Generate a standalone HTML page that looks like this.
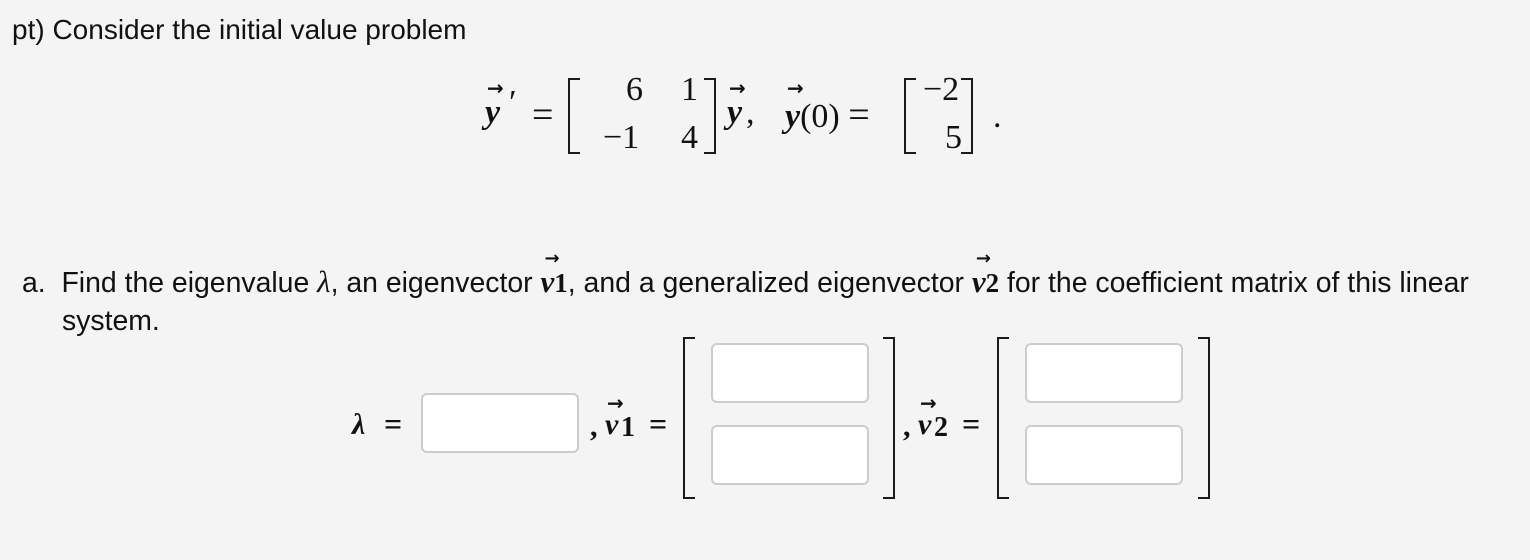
<!DOCTYPE html>
<html><head><meta charset="utf-8"><style>
body{margin:0;width:1530px;height:560px;background:#f4f4f4;position:relative;overflow:hidden;font-family:"Liberation Sans",sans-serif;color:#111}
.a{position:absolute;white-space:nowrap;line-height:1}
.s{font-family:"Liberation Sans",sans-serif;font-size:28px}
.m{font-family:"Liberation Serif",serif;font-size:34px}
.bl{position:absolute;border:2.5px solid #1a1a1a;border-right:none;width:10px}
.br{position:absolute;border:2.5px solid #1a1a1a;border-left:none;width:10px}
.box{position:absolute;background:#fff;border:2px solid #ccc;border-radius:6px;box-sizing:border-box}
.vec{position:absolute;font-size:20px;font-family:"DejaVu Sans",sans-serif;font-weight:bold;line-height:1}
.v{position:relative;display:inline-block}
.v .ar{position:absolute;left:4px;top:-16px;font-size:18px;font-family:"DejaVu Sans",sans-serif;font-weight:bold;font-style:normal}
</style></head><body>
<div class="a s" style="left:12px;top:16px">pt) Consider the initial value problem</div>

<!-- equation -->
<div class="a m" style="left:485px;top:96px;font-style:italic;font-weight:bold">y</div>
<div class="vec" style="left:487px;top:78px">→</div>
<div class="a m" style="left:507px;top:86px;font-style:italic">′</div>
<div class="a m" style="left:532px;top:96px;font-size:38px">=</div>
<div class="bl" style="left:568px;top:78px;height:72px"></div>
<div class="a m" style="left:626px;top:73px">6</div>
<div class="a m" style="left:681px;top:73px">1</div>
<div class="a m" style="left:603px;top:121px">−1</div>
<div class="a m" style="left:681px;top:121px">4</div>
<div class="br" style="left:704px;top:78px;height:72px"></div>
<div class="a m" style="left:727px;top:96px;font-style:italic;font-weight:bold">y</div>
<div class="vec" style="left:729px;top:78px">→</div>
<div class="a m" style="left:746px;top:96px">,</div>
<div class="a m" style="left:785px;top:96px"><i><b>y</b></i>(0) <span style="font-size:38px">=</span></div>
<div class="vec" style="left:787px;top:78px">→</div>
<div class="bl" style="left:904px;top:78px;height:72px"></div>
<div class="a m" style="left:923px;top:73px">−2</div>
<div class="a m" style="left:945px;top:121px">5</div>
<div class="br" style="left:961px;top:78px;height:72px"></div>
<div class="a m" style="left:993px;top:100px">.</div>

<div class="a s" style="left:22px;top:266px;font-size:28.4px">a.&nbsp; Find the eigenvalue <span style="font-family:'Liberation Serif',serif;font-style:italic;font-size:31px">λ</span>, an eigenvector <span class="v" style="font-family:'Liberation Serif',serif;font-style:italic;font-weight:bold;font-size:31px"><span class="ar">→</span>v</span><span style="font-family:'Liberation Serif',serif;font-weight:bold;font-size:27px">1</span>, and a generalized eigenvector <span class="v" style="font-family:'Liberation Serif',serif;font-style:italic;font-weight:bold;font-size:31px"><span class="ar">→</span>v</span><span style="font-family:'Liberation Serif',serif;font-weight:bold;font-size:27px">2</span> for the coefficient matrix of this linear</div>
<div class="a s" style="left:62px;top:307px;font-size:28.4px">system.</div>

<!-- answers -->
<div class="a m" style="left:352px;top:410px;font-style:italic;font-weight:bold;font-size:30px">λ</div>
<div class="a m" style="left:384px;top:408px;font-weight:bold;font-size:32px">=</div>
<div class="box" style="left:421px;top:393px;width:158px;height:60px"></div>
<div class="a m" style="left:590px;top:412px;font-weight:bold;font-size:30px">,</div>
<div class="a m" style="left:605px;top:410px;font-style:italic;font-weight:bold;font-size:30px">v</div>
<div class="a m" style="left:621px;top:414px;font-weight:bold;font-size:28px">1</div>
<div class="vec" style="left:607px;top:393px">→</div>
<div class="a m" style="left:649px;top:408px;font-weight:bold;font-size:32px">=</div>
<div class="bl" style="left:683px;top:337px;height:158px"></div>
<div class="box" style="left:711px;top:343px;width:158px;height:60px"></div>
<div class="box" style="left:711px;top:425px;width:158px;height:60px"></div>
<div class="br" style="left:883px;top:337px;height:158px"></div>
<div class="a m" style="left:903px;top:412px;font-weight:bold;font-size:30px">,</div>
<div class="a m" style="left:918px;top:410px;font-style:italic;font-weight:bold;font-size:30px">v</div>
<div class="a m" style="left:934px;top:414px;font-weight:bold;font-size:28px">2</div>
<div class="vec" style="left:920px;top:393px">→</div>
<div class="a m" style="left:962px;top:408px;font-weight:bold;font-size:32px">=</div>
<div class="bl" style="left:997px;top:337px;height:158px"></div>
<div class="box" style="left:1025px;top:343px;width:158px;height:60px"></div>
<div class="box" style="left:1025px;top:425px;width:158px;height:60px"></div>
<div class="br" style="left:1198px;top:337px;height:158px"></div>
</body></html>
